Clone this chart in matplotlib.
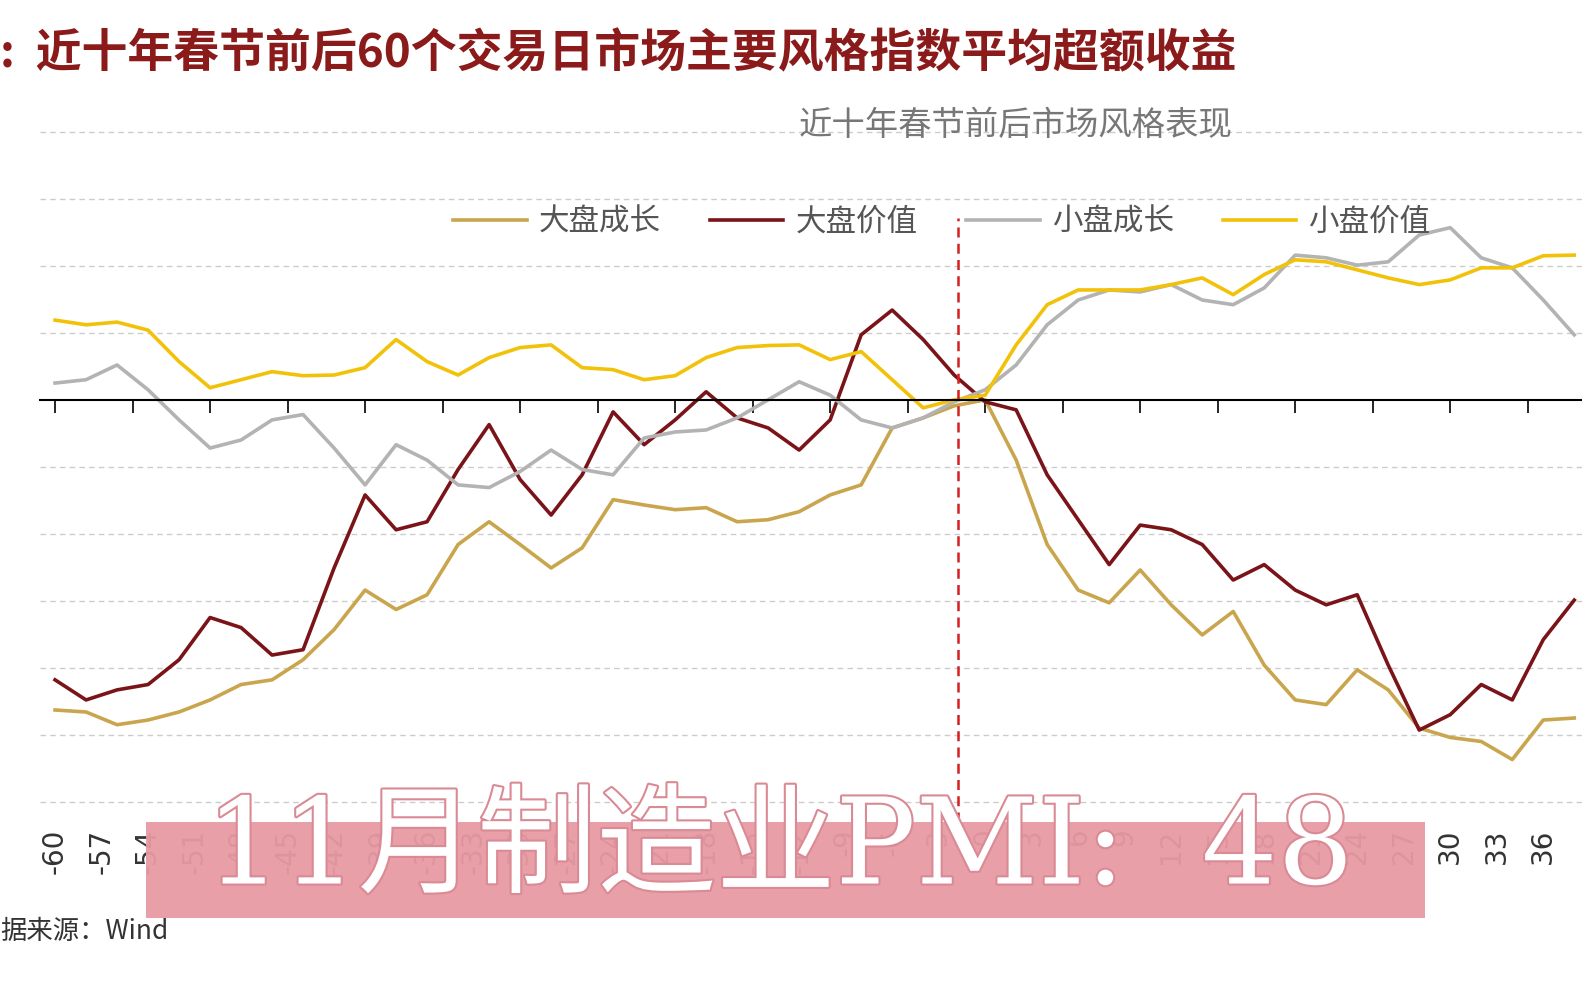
import numpy as np
import matplotlib
matplotlib.use("Agg")
import matplotlib.pyplot as plt
import matplotlib.patheffects as pe
from matplotlib.patches import Rectangle

plt.rcParams['font.family'] = ['Noto Sans CJK SC', 'DejaVu Sans']

# trading days relative to Spring Festival
days = list(range(-60, 40, 2))

large_growth = [-4.63, -4.66, -4.85, -4.78, -4.66, -4.48, -4.25, -4.18, -3.88, -3.43,
                -2.84, -3.13, -2.91, -2.16, -1.82, -2.16, -2.51, -2.21, -1.49, -1.57,
                -1.64, -1.61, -1.82, -1.79, -1.67, -1.42, -1.27, -0.42, -0.27, -0.09,
                0.0, -0.90, -2.16, -2.84, -3.03, -2.54, -3.06, -3.51, -3.16, -3.96,
                -4.48, -4.55, -4.03, -4.33, -4.90, -5.04, -5.10, -5.37, -4.78, -4.75]
large_value = [-4.18, -4.48, -4.33, -4.25, -3.88, -3.25, -3.40, -3.81, -3.73, -2.51,
               -1.42, -1.94, -1.82, -1.04, -0.37, -1.19, -1.72, -1.12, -0.18, -0.67,
               -0.30, 0.12, -0.27, -0.42, -0.75, -0.30, 0.97, 1.34, 0.90, 0.37,
               -0.03, -0.15, -1.12, -1.79, -2.46, -1.87, -1.94, -2.16, -2.69, -2.46,
               -2.84, -3.06, -2.91, -3.96, -4.93, -4.70, -4.25, -4.48, -3.58, -2.99]
small_growth = [0.25, 0.30, 0.52, 0.15, -0.30, -0.72, -0.60, -0.30, -0.22, -0.72,
                -1.27, -0.67, -0.90, -1.27, -1.31, -1.07, -0.75, -1.04, -1.12, -0.57,
                -0.48, -0.45, -0.27, 0.0, 0.27, 0.07, -0.30, -0.42, -0.27, -0.03,
                0.15, 0.52, 1.12, 1.49, 1.64, 1.61, 1.72, 1.49, 1.42, 1.67,
                2.16, 2.12, 2.01, 2.06, 2.46, 2.57, 2.12, 1.97, 1.49, 0.97]
small_value = [1.19, 1.12, 1.16, 1.04, 0.57, 0.18, 0.30, 0.42, 0.36, 0.37,
               0.48, 0.90, 0.57, 0.37, 0.63, 0.78, 0.82, 0.48, 0.45, 0.30,
               0.36, 0.63, 0.78, 0.81, 0.82, 0.60, 0.72, 0.30, -0.12, 0.0,
               0.07, 0.82, 1.42, 1.64, 1.64, 1.64, 1.72, 1.82, 1.57, 1.87,
               2.09, 2.06, 1.94, 1.82, 1.72, 1.79, 1.97, 1.97, 2.15, 2.16]

series = [("大盘成长", large_growth, "#C9A64E"),
          ("大盘价值", large_value, "#7A1419"),
          ("小盘成长", small_growth, "#B3B3B3"),
          ("小盘价值", small_value, "#F2C20A")]
tick_days = list(range(-60, 39, 3))
festival_day = -1.75

fig = plt.figure(figsize=(15.82, 9.89), dpi=100)
ax = fig.add_axes([0.025, 0.169, 0.975, 0.718])

for name, vals, col in series:
    ax.plot(days, vals, color=col, lw=2.6, label=name)

ax.set_xlim(-61, 38.5)
ax.set_ylim(-6.3, 4.3)
for y in range(-6, 5):
    if y != 0:
        ax.axhline(y, color="#cccccc", lw=1, ls=(0, (4, 3)), zorder=0)
ax.axvline(festival_day, ymin=0.0, ymax=0.85, color="#D42020", lw=1.8, ls=(0, (4, 2.5)))

for s in ["top", "right", "left"]:
    ax.spines[s].set_visible(False)
ax.spines["bottom"].set_position(("data", 0))
ax.spines["bottom"].set_linewidth(1.5)
ax.set_xticks(np.arange(-60, 39, 5))
ax.tick_params(axis="x", length=9, width=1.2, labelbottom=False)
ax.set_yticks([])

for d in tick_days:
    ax.text(d, -6.4, str(d), rotation=90, ha="center", va="top",
            fontsize=20, color="#333333", family=["DejaVu Sans"])

ax.legend(ncol=4, frameon=False, loc="upper center", bbox_to_anchor=(0.585, 0.905),
          fontsize=22, handlelength=2.4, columnspacing=1.6, handletextpad=0.4,
          labelcolor="#555555")

fig.text(0.0, 0.945, ":  近十年春节前后60个交易日市场主要风格指数平均超额收益",
         fontsize=33, color="#8B1A1A", weight="bold", va="center")
fig.text(0.642, 0.873, "近十年春节前后市场风格表现", fontsize=24, color="#777777",
         ha="center", va="center")
fig.text(0.0, 0.058, "据来源：Wind", fontsize=19, color="#333333", va="center")

fig.patches.append(Rectangle((0.092, 0.072), 0.809, 0.097, transform=fig.transFigure,
                             facecolor="#E89AA3", alpha=0.95, edgecolor="none", zorder=5))
fig.text(0.13, 0.14, "11月制造业PMI:  48", fontsize=86, color="white", zorder=6,
         family=["DejaVu Serif", "Noto Sans CJK SC"], va="center",
         path_effects=[pe.withStroke(linewidth=3, foreground="#D98A94")])

fig.savefig("out.png", dpi=100)
